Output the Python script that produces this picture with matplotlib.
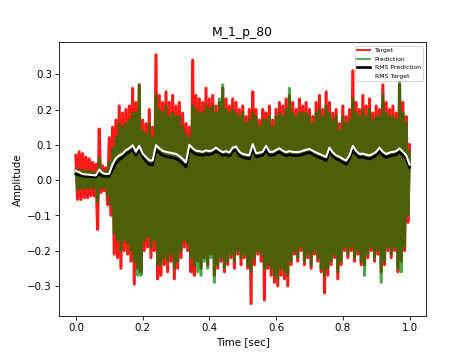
import matplotlib
matplotlib.use("Agg")
import matplotlib.pyplot as plt
import numpy as np

# peak values: upper peaks at t = 0.00 .. 1.00 (step 0.01),
# lower peaks in between (t = 0.005 .. 0.995)
target_up = [
    .07, .08, .075, .065, .06, .05, .045, .145, .04, .035,
    .12, .15, .17, .21, .19, .20, .21, .26, .22, .27,
    .17, .16, .20, .15, .355, .24, .22, .25, .22, .24,
    .21, .22, .19, .16, .15, .34, .24, .23, .22, .26,
    .23, .24, .21, .22, .26, .23, .21, .23, .22, .20,
    .21, .18, .20, .25, .20, .17, .20, .19, .21, .17,
    .20, .22, .21, .23, .24, .22, .20, .23, .21, .22,
    .20, .18, .22, .24, .20, .25, .22, .19, .20, .16,
    .21, .18, .20, .31, .22, .20, .24, .21, .23, .19,
    .21, .20, .27, .22, .20, .21, .19, .27, .22, .18,
    .10]
target_lo = [
    -.055, -.055, -.05, -.05, -.045, -.045, -.14, -.035, -.03, -.07,
    -.10, -.21, -.22, -.25, -.20, -.21, -.23, -.295, -.25, -.26,
    -.20, -.19, -.22, -.20, -.28, -.27, -.24, -.26, -.23, -.28,
    -.25, -.22, -.19, -.20, -.26, -.27, -.23, -.25, -.22, -.24,
    -.21, -.27, -.25, -.23, -.26, -.24, -.22, -.25, -.21, -.24,
    -.22, -.25, -.35, -.24, -.21, -.23, -.34, -.25, -.27, -.29,
    -.30, -.27, -.28, -.30, -.24, -.21, -.23, -.20, -.24, -.22,
    -.25, -.21, -.23, -.26, -.32, -.27, -.24, -.22, -.28, -.24,
    -.20, -.22, -.20, -.23, -.21, -.24, -.24, -.22, -.20, -.23,
    -.21, -.26, -.24, -.20, -.22, -.20, -.26, -.23, -.20, -.12]

pred_up = [
    .025, .03, .028, .025, .025, .022, .022, .06, .025, .025,
    .05, .09, .12, .16, .15, .16, .17, .19, .19, .27,
    .14, .13, .16, .12, .24, .20, .19, .21, .18, .19,
    .18, .18, .15, .13, .12, .21, .20, .19, .19, .21,
    .20, .21, .19, .23, .27, .20, .19, .20, .19, .18,
    .19, .16, .17, .19, .18, .15, .17, .17, .18, .15,
    .18, .19, .18, .20, .26, .19, .18, .19, .19, .19,
    .18, .16, .19, .20, .18, .21, .19, .17, .18, .14,
    .18, .16, .17, .23, .19, .18, .20, .18, .20, .17,
    .18, .18, .24, .19, .18, .18, .17, .28, .19, .16,
    .08]
pred_lo = [
    -.025, -.025, -.022, -.022, -.022, -.02, -.06, -.022, -.02, -.04,
    -.07, -.15, -.17, -.20, -.17, -.18, -.20, -.23, -.27, -.27,
    -.17, -.16, -.19, -.17, -.24, -.24, -.22, -.23, -.21, -.25,
    -.23, -.20, -.17, -.18, -.22, -.24, -.26, -.27, -.23, -.25,
    -.22, -.29, -.24, -.22, -.25, -.23, -.21, -.23, -.20, -.22,
    -.21, -.24, -.26, -.22, -.20, -.21, -.25, -.24, -.25, -.27,
    -.28, -.25, -.26, -.27, -.23, -.20, -.22, -.19, -.23, -.21,
    -.24, -.20, -.22, -.25, -.27, -.25, -.23, -.21, -.26, -.23,
    -.19, -.21, -.19, -.22, -.20, -.23, -.27, -.21, -.19, -.22,
    -.20, -.29, -.23, -.19, -.21, -.19, -.25, -.26, -.19, -.10]

rms_target = [
    .026, .022, .017, .016, .015, .014, .013, .030, .020, .017,
    .018, .045, .062, .070, .075, .085, .090, .099, .080, .097,
    .075, .065, .056, .055, .099, .090, .083, .080, .078, .076,
    .074, .068, .060, .050, .100, .090, .083, .082, .080, .084,
    .082, .085, .092, .085, .079, .082, .078, .092, .095, .080,
    .074, .072, .070, .102, .076, .078, .080, .097, .080, .080,
    .085, .090, .083, .079, .082, .080, .079, .080, .083, .086,
    .088, .083, .078, .074, .070, .065, .092, .078, .070, .066,
    .060, .055, .070, .097, .082, .074, .075, .072, .070, .074,
    .080, .092, .080, .074, .078, .080, .082, .090, .080, .070,
    .044]
rms_pred = [
    .017, .014, .011, .010, .010, .009, .009, .018, .011, .010,
    .011, .030, .048, .058, .064, .074, .079, .088, .070, .088,
    .066, .054, .044, .043, .086, .077, .070, .067, .065, .063,
    .061, .055, .047, .037, .088, .079, .073, .072, .070, .074,
    .072, .075, .082, .076, .070, .072, .068, .082, .085, .070,
    .064, .062, .060, .091, .066, .068, .070, .087, .070, .070,
    .075, .080, .073, .069, .072, .070, .069, .070, .073, .076,
    .078, .073, .068, .064, .060, .055, .081, .068, .060, .056,
    .050, .045, .060, .086, .072, .064, .065, .062, .060, .064,
    .070, .081, .070, .064, .068, .070, .072, .080, .070, .060,
    .036]

t_rms = np.linspace(0, 1, len(rms_target))
t_sig = np.linspace(0, 1, len(target_up) + len(target_lo))

target = np.empty(len(t_sig))
target[0::2] = target_up
target[1::2] = target_lo
pred = np.empty(len(t_sig))
pred[0::2] = pred_up
pred[1::2] = pred_lo

fig, ax = plt.subplots(figsize=(6.4, 4.8), dpi=74)

ax.plot(t_sig, target, color='r', lw=3.0, alpha=0.9, label='Target')
ax.plot(t_sig, pred, color='g', lw=3.0, alpha=0.7, label='Prediction')
ax.plot(t_rms, rms_pred, color='k', lw=2.6, label='RMS Prediction')
ax.plot(t_rms, rms_target, color='w', lw=2.0, label='RMS Target')

ax.set_title('M_1_p_80')
ax.set_xlabel('Time [sec]')
ax.set_ylabel('Amplitude')
leg = ax.legend(loc='upper right', fontsize=6)
for ln in leg.get_lines()[:2]:
    ln.set_linewidth(1.8)

fig.savefig('out.png', dpi=74)
